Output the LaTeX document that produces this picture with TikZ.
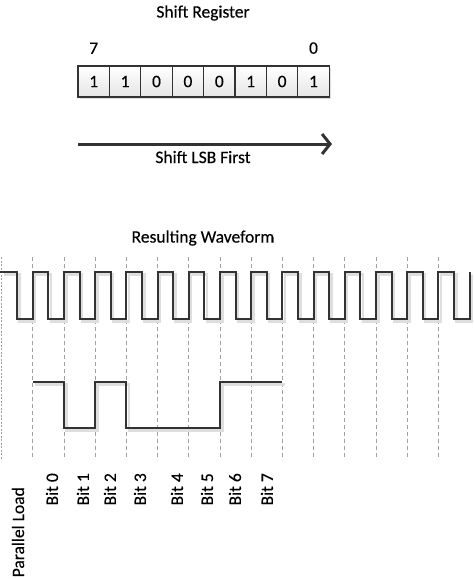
\documentclass[tikz,border=0pt]{standalone}
\usepackage{fontspec}
\setmainfont[FakeBold=0.3]{Carlito}
\usetikzlibrary{arrows.meta,positioning,shadows}
\definecolor{wavegray}{HTML}{333333}
\definecolor{gridgray}{HTML}{A0A0A0}
\tikzset{reg cell/.style={rectangle,draw=wavegray,line width=1.3pt,top color=white,bottom color=black!10,
            minimum width=31.4pt,minimum height=31pt,inner sep=0pt,outer sep=0pt,
            drop shadow={shadow xshift=2pt,shadow yshift=-2pt,opacity=.25}},
         idx label/.style={inner sep=0pt},
         title/.style={inner sep=0pt},
         bit label/.style={rotate=90,anchor=east,inner sep=0pt},
         wave/.style={draw=wavegray,line width=2pt,line join=miter},
         wave shadow/.style={draw=black!13,line width=2.5pt,shift={(2.5,2.5)}},
         tick line/.style={draw=gridgray,line width=0.8pt,dash pattern=on 4pt off 3pt},
         load line/.style={draw=gridgray,line width=1.3pt,dash pattern=on 2pt off 1.5pt},
         shift arrow/.style={draw=wavegray,line width=3pt,-{Straight Barb[length=8pt,width=20pt]}},
}
\def\per{31.2}

\begin{document}
\begin{tikzpicture}[x=1pt,y=-1pt,font=\fontsize{17.5pt}{21pt}\selectfont]
\useasboundingbox (0,0) rectangle (474,579);
% shift register
\node[title] (regtitle) at (203,13) {Shift Register};
\node[reg cell] (c7) at (93.7,81.5) {1};
\node[reg cell,right=0pt of c7] (c6) {1};
\node[reg cell,right=0pt of c6] (c5) {0};
\node[reg cell,right=0pt of c5] (c4) {0};
\node[reg cell,right=0pt of c4] (c3) {0};
\node[reg cell,right=0pt of c3] (c2) {1};
\node[reg cell,right=0pt of c2] (c1) {0};
\node[reg cell,right=0pt of c1] (c0) {1};
\node[idx label,above=12pt of c7] (msb) {7};
\node[idx label,above=12pt of c0] (lsb) {0};
\coordinate (shift start) at (78,144);
\coordinate (shift end) at (332,144);
\draw[shift arrow] (shift start) -- (shift end);
\node[title] (shifttext) at (203,157) {Shift LSB First};
% waveform
\node[title] (wavetitle) at (203,238) {Resulting Waveform};
\draw[load line] (1.5,257) -- (1.5,460);
\foreach \k in {1,...,14}
    \draw[tick line] ({1.5+\k*\per},257) -- ({1.5+\k*\per},460);
% clock
\draw[wave shadow] (1.5,272) \foreach \k in {0,...,14} { -- ++(\per/2,0) -- ++(0,47) -- ++(\per/2,0) -- ++(0,-47) };
\draw[wave] (0,272) -- (1.5,272) \foreach \k in {0,...,14} { -- ++(\per/2,0) -- ++(0,47) -- ++(\per/2,0) -- ++(0,-47) };
% data, LSB first
\draw[wave shadow] ({1.5+1*\per},382) -- ({1.5+2*\per},382) -- ({1.5+2*\per},428) -- ({1.5+3*\per},428)
    -- ({1.5+3*\per},382) -- ({1.5+4*\per},382) -- ({1.5+4*\per},428) -- ({1.5+7*\per},428)
    -- ({1.5+7*\per},382) -- ({1.5+9*\per},382);
\draw[wave] ({1.5+1*\per},382) -- ({1.5+2*\per},382) -- ({1.5+2*\per},428) -- ({1.5+3*\per},428)
    -- ({1.5+3*\per},382) -- ({1.5+4*\per},382) -- ({1.5+4*\per},428) -- ({1.5+7*\per},428)
    -- ({1.5+7*\per},382) -- ({1.5+9*\per},382);
% labels
\node[bit label] (load) at (18,487) {Parallel Load};
\foreach \x [count=\i from 0] in {52,83,110,140,177,207,235,267}
    \node[bit label] (bit\i) at (\x,473) {Bit \i};
\end{tikzpicture}
\end{document}
